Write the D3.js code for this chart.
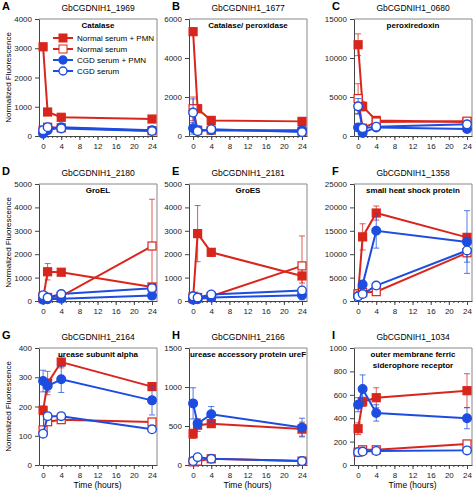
<!DOCTYPE html>
<html lang="en">
<head>
<meta charset="UTF-8">
<script src="https://d3js.org/d3.v7.min.js"></script>
<style>
  body { margin: 0; background: #fff; font-family: "Liberation Sans", Arial, sans-serif; }
  .tick text { font-size: 8px; fill: #222; }
  .domain, .tick line { stroke: #444; }
</style>
</head>
<body>
<svg id="chart" width="474" height="492"></svg>
<script>
// time points (hours)
const times = [0, 1, 4, 24];
const seriesNames = ["Normal serum + PMN", "Normal serum", "CGD serum + PMN", "CGD serum"];

const panelLetters = ["A", "B", "C", "D", "E", "F", "G", "H", "I"];
const geneIds = ["GbCGDNIH1_1969", "GbCGDNIH1_1677", "GbCGDNIH1_0680", "GbCGDNIH1_2180", "GbCGDNIH1_2181",
  "GbCGDNIH1_1358", "GbCGDNIH1_2164", "GbCGDNIH1_2166", "GbCGDNIH1_1034"];
const proteins = [["Catalase"], ["Catalase/ peroxidase"], ["peroxiredoxin"], ["GroEL"], ["GroES"],
  ["small heat shock protein"], ["urease subunit alpha"], ["urease accessory protein ureF"],
  ["outer membrane ferric", "siderophore receptor"]];
const yMax = [4000, 6000, 15000, 5000, 5000, 25000, 400, 1500, 1000];
const yStep = [1000, 2000, 5000, 1000, 1000, 5000, 100, 500, 200];

// values per panel: [NS+PMN, NS, CGD+PMN, CGD] at times
const values = [
  [[3050, 820, 640, 580], [200, 300, 280, 180], [80, 200, 300, 200], [200, 300, 260, 170]],
  [[5350, 1400, 800, 750], [1400, 300, 300, 250], [400, 300, 300, 300], [1200, 250, 350, 200]],
  [[11700, 3800, 2000, 1800], [4800, 1000, 1800, 1900], [1100, 400, 1100, 900], [3800, 1000, 1200, 1500]],
  [[100, 1250, 1230, 600], [200, 150, 200, 2350], [50, 80, 100, 230], [250, 150, 300, 550]],
  [[100, 2880, 2080, 1070], [200, 150, 200, 1500], [50, 80, 150, 250], [200, 150, 280, 450]],
  [[1500, 13700, 18800, 13600], [1500, 1800, 2000, 10300], [1000, 3500, 15000, 12600], [1000, 1500, 3300, 10800]],
  [[187, 280, 352, 268], [120, 148, 155, 147], [287, 270, 293, 221], [107, 167, 167, 122]],
  [[400, 510, 530, 460], [40, 50, 80, 50], [790, 530, 650, 480], [50, 100, 80, 50]],
  [[310, 540, 575, 635], [110, 130, 130, 180], [515, 650, 445, 400], [110, 115, 120, 125]]
];
// error bars (SD) same shape
const errors = [
  [[0, 80, 40, 40], [60, 40, 40, 30], [40, 60, 60, 40], [40, 50, 50, 40]],
  [[0, 100, 80, 60], [600, 80, 60, 50], [300, 100, 60, 60], [700, 80, 60, 50]],
  [[1400, 600, 300, 200], [1900, 400, 300, 200], [300, 200, 200, 200], [1000, 300, 200, 200]],
  [[80, 350, 80, 120], [80, 60, 60, 2000], [40, 30, 40, 100], [60, 50, 60, 120]],
  [[80, 1200, 150, 300], [80, 60, 60, 1280], [40, 30, 40, 200], [60, 50, 60, 150]],
  [[500, 2800, 1500, 800], [400, 500, 400, 800], [300, 800, 3700, 6700], [300, 400, 600, 2500]],
  [[15, 40, 20, 10], [10, 10, 8, 10], [37, 20, 45, 50], [8, 12, 8, 8]],
  [[60, 80, 40, 90], [20, 20, 15, 10], [200, 60, 100, 120], [20, 20, 15, 10]],
  [[50, 40, 85, 145], [20, 20, 20, 20], [60, 120, 70, 90], [15, 15, 15, 15]]
];

const red = "#d8261d", blue = "#1d4de0";
const colors = [red, red, blue, blue];
const shapes = ["square", "square", "circle", "circle"];

const svg = d3.select("#chart");
const colX = [39, 189, 354];
const letterDx = [-37, -17, -22];
const rowY = [19, 184, 348];
const w = 118, h = 117;

panelLetters.forEach((letter, p) => {
  const col = p % 3, row = Math.floor(p / 3);
  const g = svg.append("g").attr("transform", `translate(${colX[col]},${rowY[row]})`);
  const x = d3.scaleLinear().domain([-0.9, 25.1]).range([0, w]);
  const y = d3.scaleLinear().domain([0, yMax[p]]).range([h, 0]);

  // frame
  g.append("path").attr("d", `M0,0H${w}V${h}`).attr("fill", "none").attr("stroke", "#888").attr("stroke-width", 1);

  g.append("g").attr("transform", `translate(0,${h})`)
    .call(d3.axisBottom(x).tickValues(d3.range(0, 25, 4)).tickSize(4).tickSizeOuter(0));
  g.append("g").attr("transform", `translate(0,${h})`)
    .call(d3.axisBottom(x).tickValues(d3.range(0, 25, 1)).tickSize(2).tickFormat("").tickSizeOuter(0))
    .select(".domain").remove();
  g.append("g").call(d3.axisLeft(y).tickValues(d3.range(0, yMax[p] + 1, yStep[p]))
    .tickFormat(d3.format("d")).tickSize(4).tickSizeOuter(0));

  // series
  values[p].forEach((vals, s) => {
    const c = colors[s];
    const pts = vals.map((v, i) => ({ t: times[i], v, e: errors[p][s][i] }));
    const sg = g.append("g");
    sg.selectAll("path.err").data(pts).join("path")
      .attr("d", d => {
        const xx = x(d.t), y1 = y(d.v + d.e), y0 = y(Math.max(0, d.v - d.e));
        return `M${xx},${y0}V${y1}M${xx - 3},${y1}H${xx + 3}M${xx - 3},${y0}H${xx + 3}`;
      })
      .attr("stroke", c).attr("stroke-width", 1).attr("fill", "none").attr("opacity", 0.75);
    sg.append("path").datum(pts)
      .attr("d", d3.line().x(d => x(d.t)).y(d => y(d.v)))
      .attr("fill", "none").attr("stroke", c).attr("stroke-width", 2);
    const fill = s % 2 === 0 ? c : "#fff";
    if (shapes[s] === "square") {
      sg.selectAll("rect").data(pts).join("rect")
        .attr("x", d => x(d.t) - 4).attr("y", d => y(d.v) - 4).attr("width", 8).attr("height", 8)
        .attr("fill", fill).attr("stroke", c).attr("stroke-width", 1.2);
    } else {
      sg.selectAll("circle").data(pts).join("circle")
        .attr("cx", d => x(d.t)).attr("cy", d => y(d.v)).attr("r", 4.3)
        .attr("fill", fill).attr("stroke", c).attr("stroke-width", 1.4);
    }
  });

  // texts
  g.append("text").attr("x", w / 2).attr("y", -8).attr("text-anchor", "middle")
    .attr("font-size", 8.5).text(geneIds[p]);
  g.append("text").attr("x", letterDx[col]).attr("y", -9)
    .attr("font-size", 11).attr("font-weight", "bold").text(letter);
  proteins[p].forEach((line, k) => {
    g.append("text").attr("x", w / 2).attr("y", 9 + k * 11).attr("text-anchor", "middle")
      .attr("font-size", 8).attr("font-weight", "bold").text(line);
  });
  if (col === 0) {
    g.append("text").attr("transform", `translate(-28,${h / 2}) rotate(-90)`).attr("text-anchor", "middle")
      .attr("font-size", 8).text("Normalized Fluorescence");
  }
  if (row === 2) {
    g.append("text").attr("x", x(12)).attr("y", h + 23).attr("text-anchor", "middle")
      .attr("font-size", 8.5).text("Time (hours)");
  }

  // legend in panel A
  if (p === 0) {
    const lg = g.append("g").attr("transform", "translate(14,19)");
    seriesNames.forEach((name, s) => {
      const c = colors[s], yy = s * 11, fill = s % 2 === 0 ? c : "#fff";
      lg.append("line").attr("x1", 0).attr("x2", 20).attr("y1", yy).attr("y2", yy).attr("stroke", c).attr("stroke-width", 2);
      if (shapes[s] === "square")
        lg.append("rect").attr("x", 6).attr("y", yy - 4).attr("width", 8).attr("height", 8).attr("fill", fill).attr("stroke", c);
      else
        lg.append("circle").attr("cx", 10).attr("cy", yy).attr("r", 4).attr("fill", fill).attr("stroke", c).attr("stroke-width", 1.4);
      lg.append("text").attr("x", 24).attr("y", yy + 3).attr("font-size", 8).text(name);
    });
  }
});
</script>
</body>
</html>
